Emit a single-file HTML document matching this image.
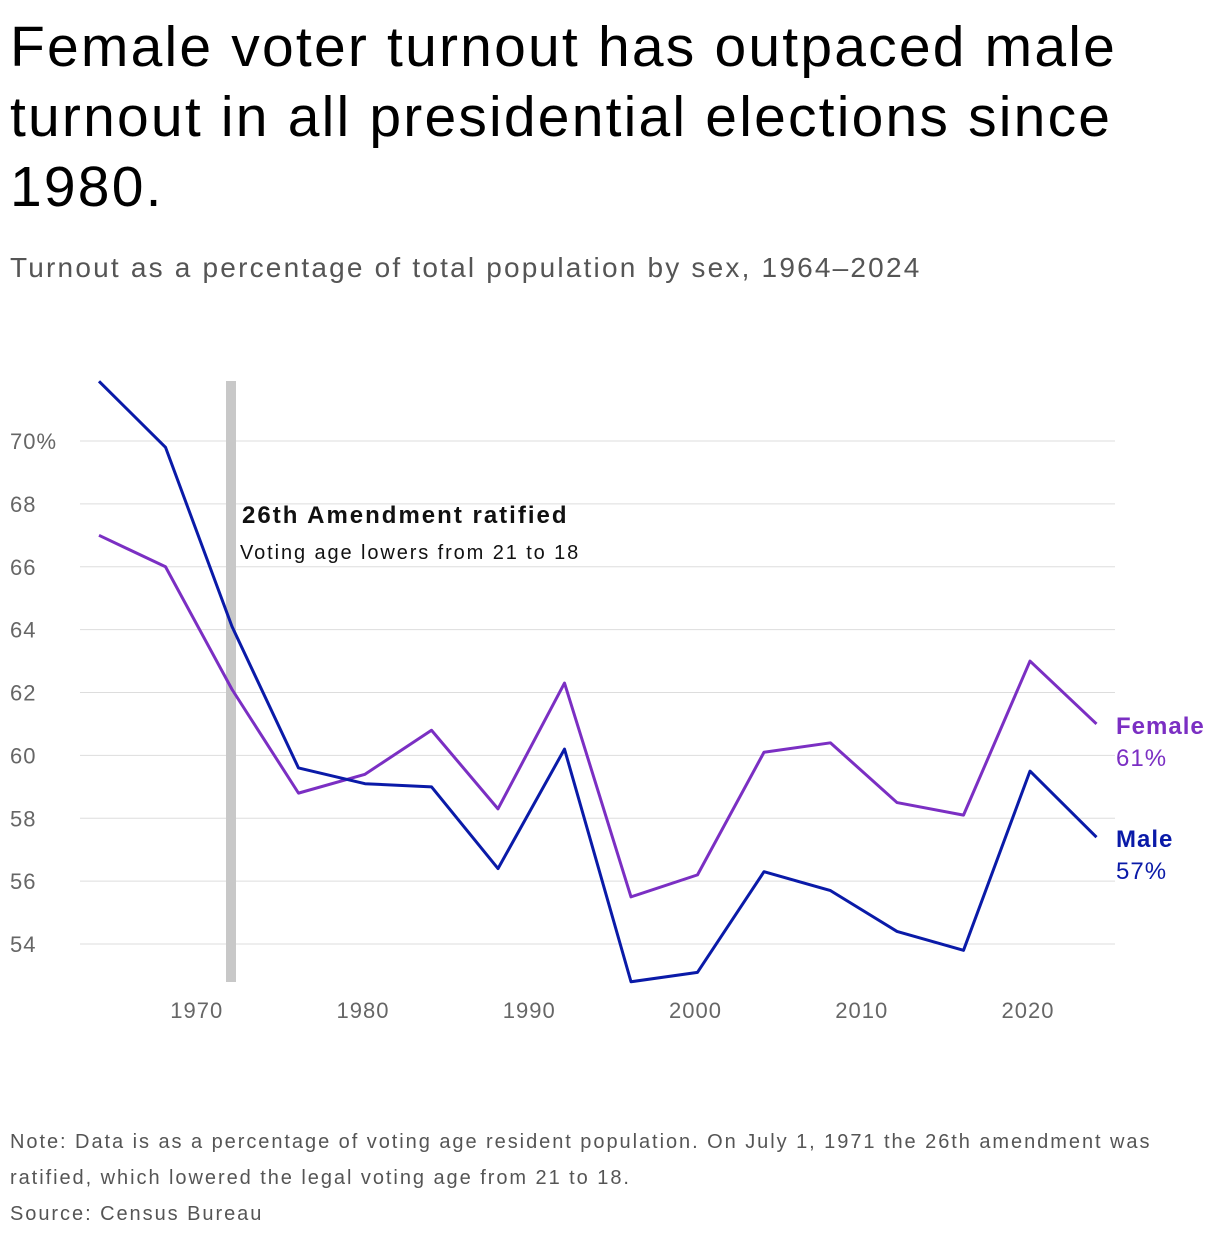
<!DOCTYPE html>
<html><head><meta charset="utf-8"><style>
body{margin:0;width:1220px;height:1240px;background:#fff;font-family:"Liberation Sans",sans-serif;overflow:hidden;position:relative}
#title{position:absolute;left:10px;top:12px;font-size:57px;line-height:70px;color:#000;letter-spacing:2.2px;white-space:nowrap}
#sub{position:absolute;left:10px;top:252px;font-size:28px;color:#555;letter-spacing:2.2px;white-space:nowrap}
#note{position:absolute;left:10px;top:1124px;font-size:20px;line-height:36px;color:#555;letter-spacing:1.95px;white-space:nowrap}
svg{position:absolute;left:0;top:0}
</style></head><body>
<div id="title">Female voter turnout has outpaced male<br>turnout in all presidential elections since<br>1980.</div>
<div id="sub">Turnout as a percentage of total population by sex, 1964–2024</div>
<svg id="chart" width="1220" height="1240"></svg>
<div id="note">Note: Data is as a percentage of voting age resident population. On July 1, 1971 the 26th amendment was<br>ratified, which lowered the legal voting age from 21 to 18.<br>Source: Census Bureau</div>
<script>
const years=[1964,1968,1972,1976,1980,1984,1988,1992,1996,2000,2004,2008,2012,2016,2020,2024];
const male=[71.9,69.8,64.1,59.6,59.1,59.0,56.4,60.2,52.8,53.1,56.3,55.7,54.4,53.8,59.5,57.4];
const female=[67.0,66.0,62.1,58.8,59.4,60.8,58.3,62.3,55.5,56.2,60.1,60.4,58.5,58.1,63.0,61.0];
const yTicks=[54,56,58,60,62,64,66,68,70];
const xTicks=[1970,1980,1990,2000,2010,2020];
const NS="http://www.w3.org/2000/svg";
const svg=document.getElementById('chart');
const x=v=>99+(v-1964)*16.625;
const y=v=>441+(70-v)*31.44;
function mk(t,a){const e=document.createElementNS(NS,t);for(const k in a)e.setAttribute(k,a[k]);svg.appendChild(e);return e;}
yTicks.forEach(t=>{
 const l=mk('line',{x1:80,x2:1115,y1:y(t),y2:y(t),stroke:'#ddd','stroke-width':1});
 
 
 const tx=mk('text',{x:10,y:y(t)+8,'font-size':22,fill:'#666','letter-spacing':1,'font-family':'Liberation Sans, sans-serif'});
 tx.textContent=t===70?'70%':t;
 
 
});
xTicks.forEach(t=>{
 const tx=mk('text',{x:x(t)-2,y:1018,'font-size':22,fill:'#666','letter-spacing':1,'text-anchor':'middle','font-family':'Liberation Sans, sans-serif'});
 tx.textContent=t;
 
 
});
const bar=mk('rect',{x:x(1972)-6,y:381,width:10,height:601,fill:'#c8c8c8'});


const a1=mk('text',{x:242,y:523,'font-size':24,'font-weight':'bold','letter-spacing':2,fill:'#111'});a1.textContent='26th Amendment ratified';


const a2=mk('text',{x:240,y:559,'font-size':20,'letter-spacing':1.9,fill:'#111'});a2.textContent='Voting age lowers from 21 to 18';


function line(vals,col,name){
 const p=mk('polyline',{points:years.map((yr,i)=>x(yr)+','+y(vals[i])).join(' '),fill:'none',stroke:col,'stroke-width':3,'stroke-linejoin':'round'});
 
 
}
line(female,'#7b2fc3','female-line');
line(male,'#0a1aa8','male-line');
function lab(txt,yy,col,name,bold){const t=mk('text',{x:1116,y:yy,'font-size':24,'letter-spacing':1,fill:col,'font-weight':bold?'bold':'normal'});t.textContent=txt;
 
 }
lab('Female',y(female[15])+10,'#7b2fc3','female-label',true);
lab(Math.round(female[15])+'%',y(female[15])+42,'#7b2fc3','female-value',false);
lab('Male',y(male[15])+10,'#0a1aa8','male-label',true);
lab(Math.round(male[15])+'%',y(male[15])+42,'#0a1aa8','male-value',false);
</script>
</body></html>
